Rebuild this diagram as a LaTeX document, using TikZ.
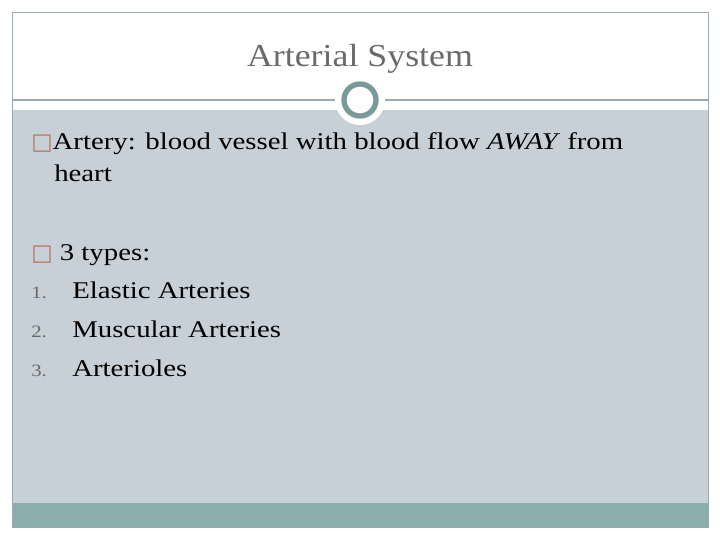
\documentclass[tikz,border=0pt]{standalone}
\usepackage{fontspec}
\setmainfont{Liberation Serif}
\newfontfamily\wide[FakeStretch=1.2]{Liberation Serif}
\newfontfamily\twide[FakeStretch=1.12]{Liberation Serif}
\newfontfamily\symfont{DejaVu Sans}
\definecolor{bodyg}{HTML}{C6D0D6}
\definecolor{strip}{HTML}{8AADAE}
\definecolor{ring}{HTML}{7A9A9A}
\definecolor{rulec}{HTML}{9AAAB0}
\definecolor{bul}{HTML}{C07060}
\definecolor{titlec}{HTML}{6A6A6A}
\begin{document}
\begin{tikzpicture}[x=0.75pt,y=-0.75pt,
  body/.style={anchor=base west,inner sep=0pt,font=\wide\fontsize{18}{20}\selectfont},
  num/.style={anchor=base west,inner sep=0pt,font=\wide\fontsize{13}{15}\selectfont,text=titlec}]
\useasboundingbox (0,0) rectangle (720,540);
\fill[white] (0,0) rectangle (720,540);
\fill[bodyg] (12,110) rectangle (708,503);
\fill[strip] (12,503) rectangle (708,527);
\draw[rulec] (12,12) rectangle (708,527);
\draw[rulec,line width=1pt] (12,100) -- (708,100);
\fill[white] (360,100) circle (25);
\draw[ring,line width=4pt,fill=white] (360,100) circle (16);
\node[anchor=base,inner sep=0pt,font=\twide\fontsize{24}{26}\selectfont,text=titlec] (title) at (360,66) {Arterial System};
\node[body] (l1) at (31,149) {{\symfont\color{bul}\fontsize{17}{18}\selectfont □}Artery: blood vessel with blood flow \textit{AWAY} from};
\node[body] (l2) at (54,181) {heart};
\node[body] (l3) at (31,260) {{\symfont\color{bul}\fontsize{17}{18}\selectfont □} 3 types:};
\node[num] (n1) at (31,298) {1.};
\node[body] (a1) at (72,298) {Elastic Arteries};
\node[num] (n2) at (31,337) {2.};
\node[body] (a2) at (72,337) {Muscular Arteries};
\node[num] (n3) at (31,376) {3.};
\node[body] (a3) at (72,376) {Arterioles};
\end{tikzpicture}
\end{document}
